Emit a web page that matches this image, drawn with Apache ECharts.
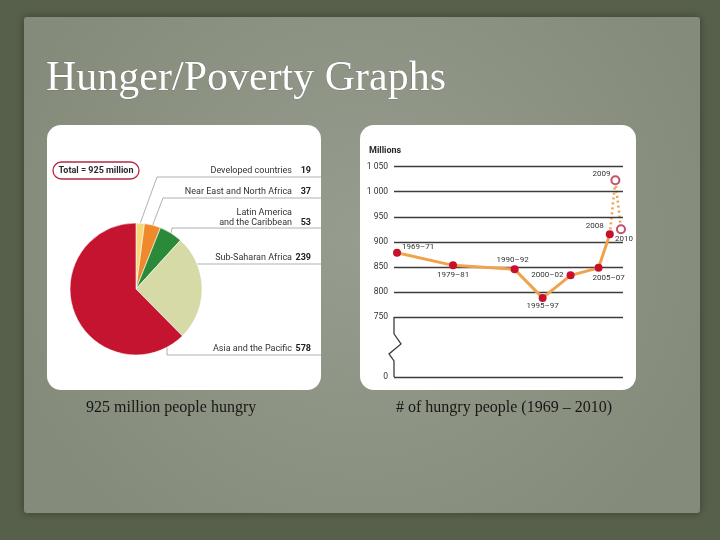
<!DOCTYPE html>
<html><head><meta charset="utf-8">
<script src="https://cdn.jsdelivr.net/npm/echarts@6/dist/echarts.min.js"></script>
<style>html,body{margin:0;padding:0;background:#59614d}#c{width:720px;height:540px}</style>
</head><body><div id="c"></div>
<script>
// ---------- data ----------
const regionNames = ['Developed countries', 'Near East and North Africa', 'Latin America|and the Caribbean', 'Sub-Saharan Africa', 'Asia and the Pacific'];
const regionValues = [19, 37, 53, 239, 578];
const totalText = 'Total = 925 million';
const periodLabels = ['1969–71', '1979–81', '1990–92', '1995–97', '2000–02', '2005–07', '2008'];
const periodYears = [1970, 1980, 1991, 1996, 2001, 2006, 2008];
const hungryValues = [878, 853, 845, 788, 833, 848, 915];
const projLabels = ['2008', '2009', '2010'];
const projYears = [2008, 2009, 2010];
const projValues = [915, 1023, 925];
const yTickValues = [630, 750, 800, 850, 900, 950, 1000, 1050];
const yTickLabels = ['0', '750', '800', '850', '900', '950', '1 000', '1 050'];
const titleText = 'Hunger/Poverty Graphs';
const caption1 = '925 million people hungry';
const caption2 = '# of hungry people (1969 – 2010)';
const yAxisTitle = 'Millions';

// ---------- layout / style ----------
const pieColors = ['#f7d679', '#ef8a2c', '#2a8a3a', '#d5daa6', '#c5142f'];
const PIE_C = [136, 289], PIE_R = 66, PANEL_RIGHT = 321, LABEL_X = 311;
const labelTextY = [171, 192, 218, 258, 349];
const leaderY = [177, 198, 228, 264, 355];
const leaderElbowX = [157, 163, 172, null, 167];
const SANS = 'Roboto, "DejaVu Sans", sans-serif';
const SERIF = '"Liberation Serif", "DejaVu Serif", serif';
const X_MIN = 1969.46, X_MAX = 2010.36;

// point label placement (index-aligned with the series above)
const mainLabelPos = [
  {position: 'right', distance: 1, offset: [0, -6]},
  {position: 'bottom', distance: 2, offset: [0, 0]},
  {position: 'top', distance: 1, offset: [-2, 0]},
  {position: 'bottom', distance: 0, offset: [0, 0]},
  {position: 'left', distance: 3, offset: [0, 0]},
  {position: 'bottom', distance: 2, offset: [10, 0]},
  {position: 'left', distance: 2, offset: [0, -8]}
];
const projLabelPos = [
  null,
  {position: 'left', distance: 0, offset: [0, -6]},
  {position: 'bottom', distance: 1, offset: [3, 0]}
];

const sumV = regionValues.reduce((a, b) => a + b, 0);
function midPoint(i) {
  let cum = 0;
  for (let k = 0; k < i; k++) cum += regionValues[k];
  const th = (cum + regionValues[i] / 2) / sumV * Math.PI * 2;
  return [PIE_C[0] + PIE_R * Math.sin(th), PIE_C[1] - PIE_R * Math.cos(th)];
}
function pieLabelLayout(p) {
  const i = p.dataIndex;
  const y = leaderY[i];
  let pts;
  if (i === 3) {
    const x = PIE_C[0] + Math.sqrt(PIE_R * PIE_R - (y - PIE_C[1]) ** 2);
    pts = [[x, y], [x + 0.1, y], [PANEL_RIGHT, y]];
  } else if (i === 4) {
    const ex = leaderElbowX[i];
    const sy = PIE_C[1] + Math.sqrt(PIE_R * PIE_R - (ex - PIE_C[0]) ** 2);
    pts = [[ex, sy], [ex, y], [PANEL_RIGHT, y]];
  } else {
    pts = [midPoint(i), [leaderElbowX[i], y], [PANEL_RIGHT, y]];
  }
  return {x: LABEL_X, y: labelTextY[i], align: 'right', verticalAlign: 'middle', labelLinePoints: pts};
}

const pieData = regionNames.map((n, i) => ({name: n, value: regionValues[i], itemStyle: {color: pieColors[i]}}));

const mainData = periodYears.map((y, i) => ({
  value: [y, hungryValues[i]],
  label: Object.assign({show: true, formatter: periodLabels[i]}, mainLabelPos[i])
}));
const projData = projYears.map((y, i) => i === 0
  ? {value: [y, projValues[i]], symbol: 'none', label: {show: false}}
  : {value: [y, projValues[i]], label: Object.assign({show: true, formatter: projLabels[i]}, projLabelPos[i])});

const chart = echarts.init(document.getElementById('c'));
chart.setOption({
  animation: false,
  backgroundColor: '#57604b',
  graphic: [
    {type: 'rect', id: 'paper', z: 0, shape: {x: 24, y: 17, width: 676, height: 496, r: 3},
      style: {fill: new echarts.graphic.RadialGradient(0.5, 0.45, 0.75, [
        {offset: 0, color: '#979d8e'}, {offset: 1, color: '#858b7b'}]),
        shadowBlur: 8, shadowColor: 'rgba(0,0,0,0.35)'}},
    {type: 'rect', id: 'panel1', z: 0, shape: {x: 47, y: 125, width: 274, height: 265, r: 14}, style: {fill: '#fff'}},
    {type: 'rect', id: 'panel2', z: 0, shape: {x: 360, y: 125, width: 276, height: 265, r: 14}, style: {fill: '#fff'}},
    {type: 'text', id: 'title', z: 5, style: {text: titleText, x: 46, y: 79, verticalAlign: 'middle',
      font: '42px ' + SERIF, fill: '#ffffff', stroke: 'rgba(70,70,70,0.6)', lineWidth: 0.6}},
    {type: 'text', id: 'cap1', z: 5, style: {text: caption1, x: 86, y: 408, verticalAlign: 'middle', font: '16px ' + SERIF, fill: '#161616'}},
    {type: 'text', id: 'cap2', z: 5, style: {text: caption2, x: 396, y: 408, verticalAlign: 'middle', font: '16px ' + SERIF, fill: '#161616'}},
    {type: 'rect', id: 'pill', z: 5, shape: {x: 53, y: 162, width: 86, height: 17, r: 8.5},
      style: {fill: '#fff', stroke: '#b5283f', lineWidth: 1.3}},
    {type: 'text', id: 'pillText', z: 6, style: {text: totalText, x: 96, y: 170.5, align: 'center', verticalAlign: 'middle',
      font: 'bold 9px ' + SANS, fill: '#2a2a2a'}},
    {type: 'text', id: 'millions', z: 6, style: {text: yAxisTitle, x: 369, y: 151, verticalAlign: 'middle',
      font: 'bold 9px ' + SANS, fill: '#2a2a2a'}}
  ],
  grid: {left: 394, right: 97, top: 166.7, bottom: 163},
  xAxis: {type: 'value', min: X_MIN, max: X_MAX, show: false},
  yAxis: {type: 'value', min: 630, max: 1050,
    axisLine: {show: false}, axisTick: {show: false}, splitLine: {show: false},
    axisLabel: {customValues: yTickValues, formatter: v => yTickLabels[yTickValues.indexOf(v)],
      fontSize: 8.5, color: '#333', margin: 6, fontFamily: SANS}},
  series: [
    {type: 'pie', z: 3, center: PIE_C, radius: PIE_R, startAngle: 90, clockwise: true,
      avoidLabelOverlap: false, data: pieData,
      itemStyle: {borderColor: '#fff', borderWidth: 0.6},
      label: {show: true, position: 'outside', color: '#333', fontFamily: SANS, fontSize: 9,
        formatter: p => {
          const parts = p.name.split('|');
          if (parts.length > 1) return '{n|' + parts[0] + '}{s| }\n{n|' + parts[1] + '}{v|' + p.value + '}';
          return '{n|' + parts[0] + '}{v|' + p.value + '}';
        },
        rich: {
          n: {fontSize: 9, fontFamily: SANS, color: '#333', align: 'right', lineHeight: 10},
          s: {width: 19, align: 'right', fontSize: 9, lineHeight: 10},
          v: {width: 19, align: 'right', fontSize: 9, fontWeight: 'bold', fontFamily: SANS, color: '#222', lineHeight: 10}
        }},
      labelLine: {show: true, lineStyle: {color: '#9c9c9c', width: 0.8}},
      labelLayout: pieLabelLayout,
      emphasis: {disabled: true}},
    {type: 'line', z: 1, data: [], silent: true,
      markLine: {silent: true, symbol: 'none', label: {show: false},
        lineStyle: {color: '#3c3c3c', width: 1.3, type: 'solid'},
        data: yTickValues.map(v => ({yAxis: v}))}},
    {type: 'line', z: 4, data: projData, symbol: 'emptyCircle', symbolSize: 8, showSymbol: true, showAllSymbol: true,
      lineStyle: {color: '#eea24e', width: 2.6, type: [2, 3]},
      itemStyle: {color: '#c4506a', borderWidth: 1.4},
      label: {fontSize: 8, fontFamily: SANS, color: '#333'},
      emphasis: {disabled: true}},
    {type: 'line', z: 5, data: mainData, symbol: 'circle', symbolSize: 8,
      lineStyle: {color: '#f0a34c', width: 3},
      itemStyle: {color: '#c8102e'},
      label: {fontSize: 8, fontFamily: SANS, color: '#333'},
      emphasis: {disabled: true}}
  ]
});

// zigzag break on the left axis between 0 and 750
const p750 = chart.convertToPixel({gridIndex: 0}, [X_MIN, 750]);
const p0 = chart.convertToPixel({gridIndex: 0}, [X_MIN, 630]);
const ax = p750[0], yt = p750[1], yb = p0[1];
chart.setOption({graphic: [{type: 'polyline', id: 'zig', z: 6,
  shape: {points: [[ax, yt], [ax, yt + 17], [ax + 7, yt + 27], [ax - 5, yt + 37], [ax, yt + 44], [ax, yb]]},
  style: {stroke: '#3c3c3c', lineWidth: 1.3, fill: null}}]});
</script>
</body></html>
